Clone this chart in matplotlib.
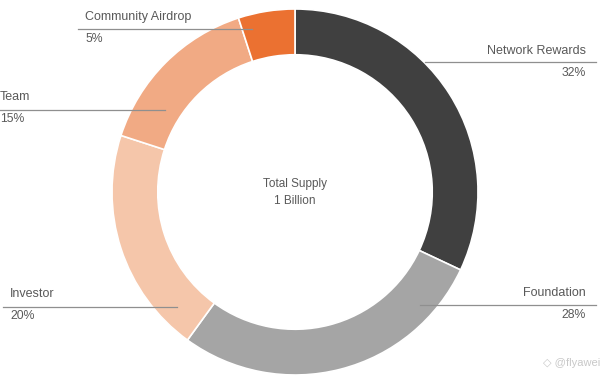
import matplotlib.pyplot as plt

# token allocation
labels = ["Network Rewards", "Foundation", "Investor", "Team", "Community Airdrop"]
shares = [32, 28, 20, 15, 5]
colors = ["#404040", "#a5a5a5", "#f5c6aa", "#f1aa84", "#eb7131"]

W, H = 609, 381
fig = plt.figure(figsize=(W / 100, H / 100), dpi=100)
ax = fig.add_axes([0, 0, 1, 1])

# ring: center (295,192) px, outer radius 183 px
R = 183
cx, cy = 295, 192
ax.pie(shares, colors=colors, startangle=90, counterclock=False, radius=1,
       wedgeprops=dict(width=0.25, edgecolor="white", linewidth=1.2))
ax.set_xlim(-cx / R, (W - cx) / R)
ax.set_ylim(-(H - cy) / R, cy / R)
ax.set_aspect("auto")
ax.axis("off")

txt = "#595959"
fnt = ["Liberation Sans", "DejaVu Sans"]


def fx(x):
    return x / W


def fy(y):
    return 1 - y / H


# (label, pct, text x, name y, line y, line x0, line x1, align)
callouts = [
    ("Network Rewards", 32, 586, 51, 62, 425, 596, "right"),
    ("Foundation", 28, 586, 293, 305, 420, 596, "right"),
    ("Investor", 20, 10, 294, 307, 3, 177, "left"),
    ("Team", 15, 0, 97, 110, 0, 165, "left"),
    ("Community Airdrop", 5, 85, 17, 29, 78, 252, "left"),
]
for name, pct, tx, ty, ly, x0, x1, ha in callouts:
    fig.add_artist(plt.Line2D([fx(x0), fx(x1)], [fy(ly), fy(ly)],
                              color="#8f8f8f", lw=0.9, transform=fig.transFigure))
    fig.text(fx(tx), fy(ty), name, ha=ha, va="center", fontsize=9,
             color=txt, family=fnt)
    fig.text(fx(tx), fy(ty + 22), f"{pct}%", ha=ha, va="center", fontsize=8.8,
             color=txt, family=fnt)

fig.text(fx(cx), fy(184), "Total Supply", ha="center", va="center",
         fontsize=8.5, color=txt, family=fnt)
fig.text(fx(cx), fy(201), "1 Billion", ha="center", va="center",
         fontsize=8.5, color=txt, family=fnt)

fig.text(fx(600), fy(363), "\u25c7 @flyawei", ha="right", va="center",
         fontsize=8, color="#c8c8c8", family=fnt)

fig.savefig("out.png", dpi=100, facecolor="white")
